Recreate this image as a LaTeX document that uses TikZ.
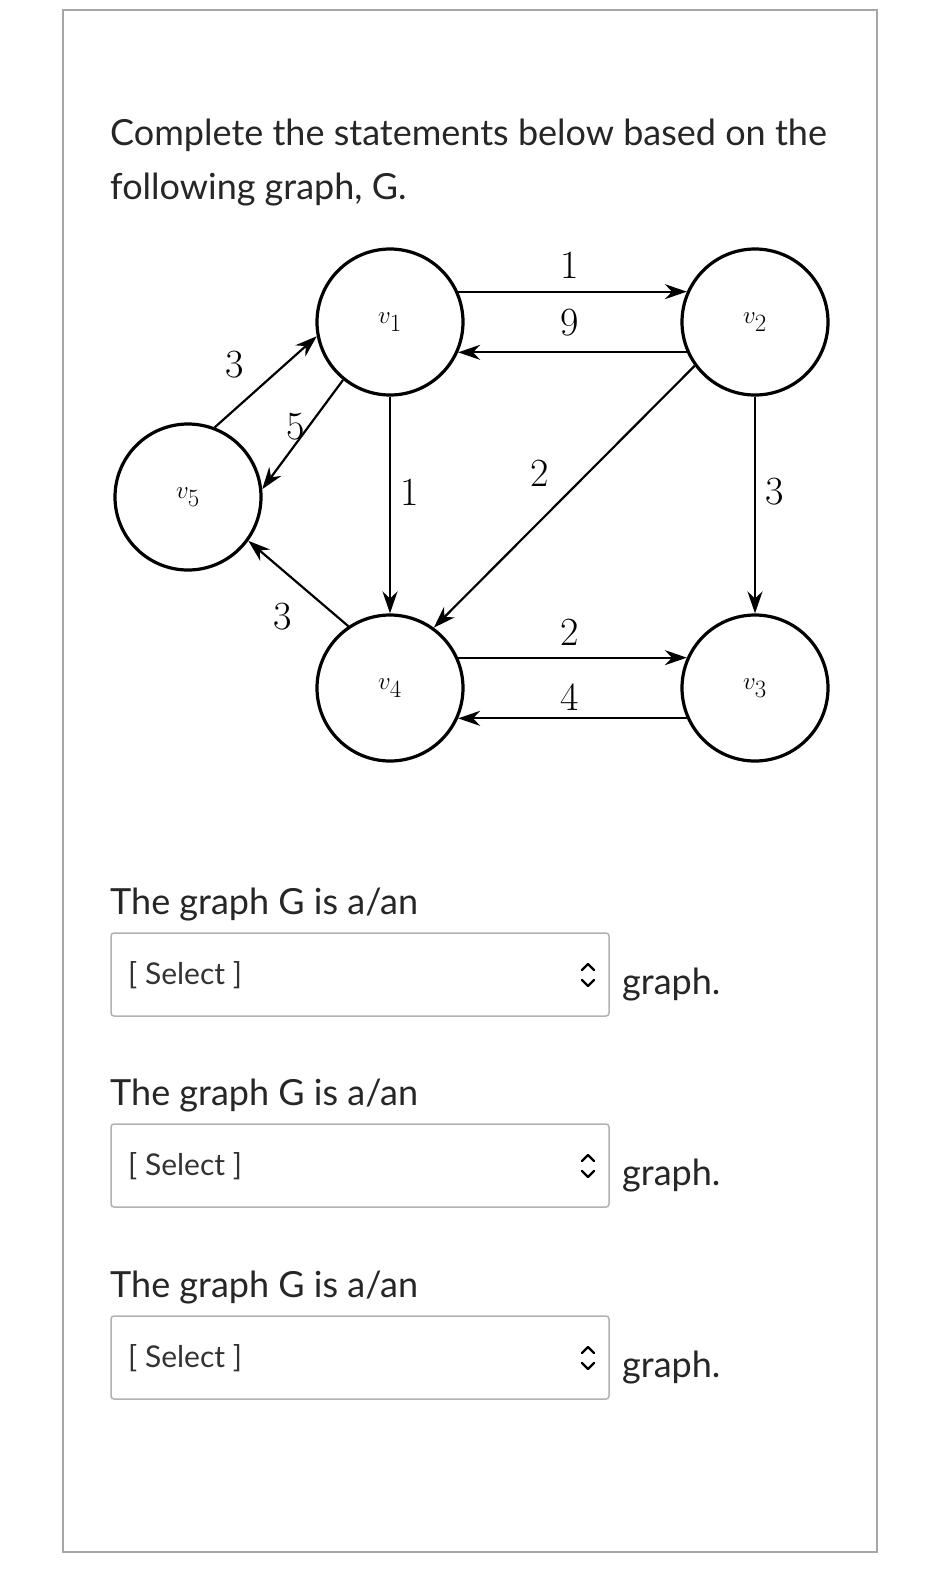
\documentclass[tikz,border=0pt]{standalone}
\usepackage{fontspec}
\setmainfont{Lato}
\newfontfamily\lmr{Latin Modern Roman}
\usetikzlibrary{arrows.meta}
\begin{document}
\begin{tikzpicture}[x=1pt,y=-1pt,
  vert/.style={circle,draw,line width=3.2pt,minimum size=146pt,inner sep=0pt,font=\fontsize{38}{40}\selectfont},
  arc/.style={line width=2.2pt,-{Stealth[length=22pt,width=15pt]}},
  wlab/.style={font=\lmr\fontsize{40}{42}\selectfont,inner sep=0pt},
  ui/.style={font=\fontsize{36}{40}\selectfont,text=black!85,anchor=west,inner sep=0pt},
  selbox/.style={draw=black!30,line width=1.5pt,rounded corners=3pt},
  seltext/.style={font=\fontsize{30}{32}\selectfont,text=black!80,anchor=west,inner sep=0pt},
  chev/.style={line width=2.2pt,line cap=round,line join=round}]
\useasboundingbox (0,0) rectangle (944,1572);
\fill[white] (0,0) rectangle (944,1572);
\draw[black!35,line width=1.5pt] (63,1552) -- (63,10) -- (877,10) -- (877,1552) -- cycle;
\node[ui] (t1) at (110,135) {Complete the statements below based on the};
\node[ui] (t2) at (110,190) {following graph, G.};
\node[vert] (v1) at (390,322) {$v_1$};
\node[vert] (v2) at (755,322) {$v_2$};
\node[vert] (v5) at (188,497) {$v_5$};
\node[vert] (v4) at (390,688) {$v_4$};
\node[vert] (v3) at (755,688) {$v_3$};
\draw[arc] (v1.24) -- (v2.156);
\draw[arc] (v2.204) -- (v1.336);
\draw[arc] (v5.69) -- (v1.191);
\draw[arc] (v1.231) -- (v5.6);
\draw[arc] (v1.south) -- (v4.north);
\draw[arc] (v2.216) -- (v4.54);
\draw[arc] (v4.124) -- (v5.324);
\draw[arc] (v2.south) -- (v3.north);
\draw[arc] (v4.24) -- (v3.156);
\draw[arc] (v3.204) -- (v4.336);
\node[wlab] (l1) at (570,265) {1};
\node[wlab] (l2) at (570,323) {9};
\node[wlab] (l3) at (235,365) {3};
\node[wlab] (l4) at (296,427) {5};
\node[wlab] (l5) at (410,492) {1};
\node[wlab] (l6) at (540,473) {2};
\node[wlab] (l7) at (283,617) {3};
\node[wlab] (l8) at (775,492) {3};
\node[wlab] (l9) at (570,632) {2};
\node[wlab] (l10) at (570,697) {4};
\foreach \i/\y in {1/905,2/1096,3/1288}{
  \node[ui] (q\i) at (110,\y) {The graph G is a/an};
  \draw[selbox] (111,\y+28) rectangle (609,\y+111);
  \node[seltext] (s\i) at (128,\y+70) {[ Select ]};
  \draw[chev] (582,\y+65) -- (588,\y+59) -- (594,\y+65);
  \draw[chev] (582,\y+75) -- (588,\y+81) -- (594,\y+75);
  \node[ui] (g\i) at (622,\y+80) {graph.};
}
\end{tikzpicture}
\end{document}
